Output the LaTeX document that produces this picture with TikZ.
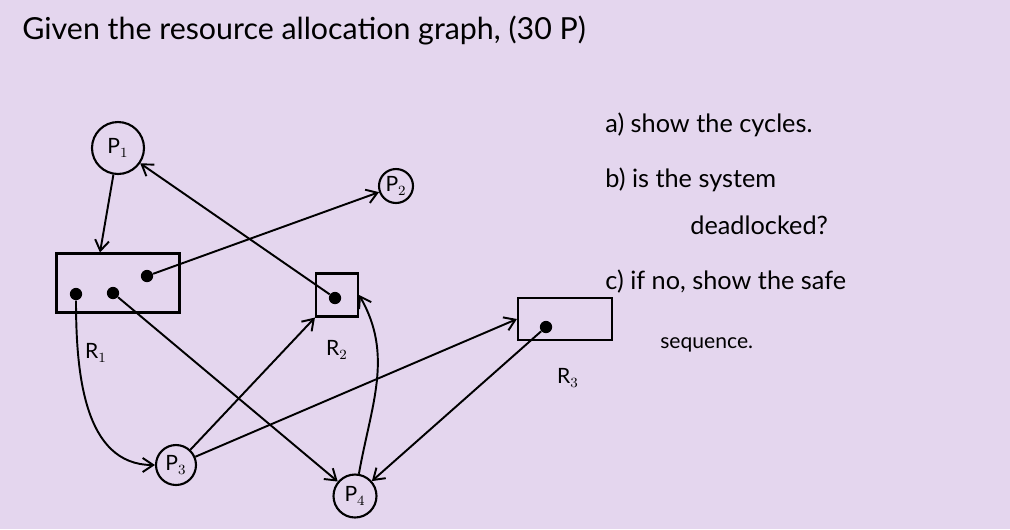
\documentclass[tikz,border=0pt]{standalone}
\usepackage{fontspec}
\setmainfont{Lato}
\usetikzlibrary{arrows.meta}
\begin{document}
\begin{tikzpicture}[x=0.02cm,y=-0.02cm,
  proc/.style={draw,circle,line width=1.2pt,inner sep=0pt,font=\large},
  res/.style={draw,line width=1.2pt,inner sep=0pt},
  dotn/.style={fill,circle,inner sep=0pt,minimum size=7pt},
  edge/.style={line width=1.1pt,-{Straight Barb[length=6pt,width=8pt]}},
  txt/.style={font=\Large,anchor=west,inner sep=0pt}]
\fill[fill={rgb,255:red,228;green,214;blue,238}] (0,0) rectangle (1010,529);
\useasboundingbox (0,0) rectangle (1010,529);
\node[txt,font=\LARGE] (t) at (22,30) {Given the resource allocation graph, (30 P)};
\node[txt] (a) at (605,125) {a) show the cycles.};
\node[txt] (b) at (605,180) {b) is the system};
\node[txt] (b2) at (690,225) {deadlocked?};
\node[txt] (c) at (605,282) {c) if no, show the safe};
\node[txt] (c2) at (660,345) {\large sequence.};
\node[proc,minimum size=1.04cm] (P1) at (118,148) {P$_1$};
\node[proc,minimum size=0.68cm] (P2) at (396,186) {P$_2$};
\node[proc,minimum size=0.8cm] (P3) at (176,465) {P$_3$};
\node[proc,minimum size=0.86cm] (P4) at (355,496) {P$_4$};
\node[res,minimum width=2.46cm,minimum height=1.18cm] (R1) at (118,283) {};
\node[res,minimum width=0.84cm,minimum height=0.86cm] (R2) at (337,295) {};
\node[res,minimum width=1.88cm,minimum height=0.84cm] (R3) at (565,319) {};
\node[dotn] (d1) at (76,294) {};
\node[dotn] (d2) at (113,293) {};
\node[dotn] (d3) at (147,276) {};
\node[dotn] (d4) at (335,298) {};
\node[dotn] (d5) at (546,327) {};
\node[font=\large] (l1) at (96,353) {R$_1$};
\node[font=\large] (l2) at (337,350) {R$_2$};
\node[font=\large] (l3) at (568,378) {R$_3$};
\draw[edge] (P1) -- (R1.north -| 100,0);
\draw[edge] (d3) -- (P2);
\draw[edge] (d4) -- (P1);
\draw[edge] (d2) -- (P4);
\draw[edge] (d1) to[out=270,in=180] (P3);
\draw[edge] (P3) -- (R2.south west);
\draw[edge] (P3) -- (R3.west);
\draw[edge] (d5) -- (P4);
\draw[edge] (P4) to[out=80,in=-60] (R2.east);
\end{tikzpicture}
\end{document}
